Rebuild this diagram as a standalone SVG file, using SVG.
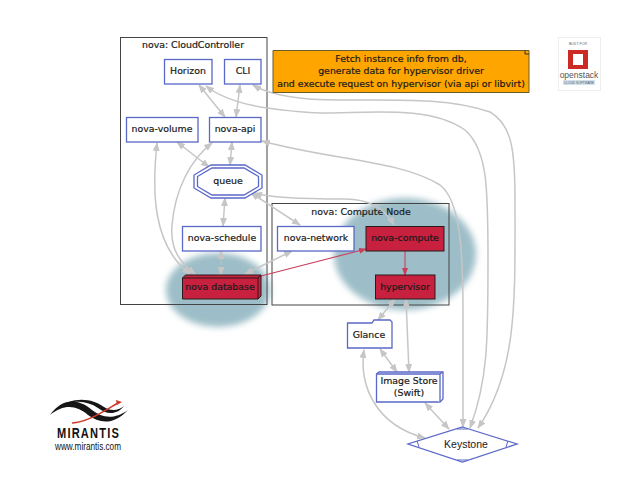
<svg xmlns="http://www.w3.org/2000/svg" width="638" height="493" viewBox="0 0 638 493">
<style>
text{font-family:"DejaVu Sans","Liberation Sans",sans-serif;font-size:9.4px;fill:#1a1a1a;stroke:#1a1a1a;stroke-width:.2;text-anchor:middle}
.plain{font-family:"Liberation Sans",Arial,sans-serif;stroke:none}
.cluster{fill:none;stroke:#444;stroke-width:1}
.n{fill:#fff;stroke:#5a68c8;stroke-width:1.3}
.r{fill:#c8203f;stroke:#2a1a1a;stroke-width:1}
.e{fill:none;stroke:#c6c6c6;stroke-width:1.5;marker-start:url(#ga);marker-end:url(#ga)}
.red{fill:none;stroke:#c9405c;stroke-width:1.1;marker-end:url(#ra)}
.blob{fill:#9dbec8;filter:url(#soft)}
</style>
<defs>
<filter id="soft" x="-20%" y="-20%" width="140%" height="140%"><feGaussianBlur stdDeviation="3"/></filter>
<marker id="ga" markerWidth="9" markerHeight="7" refX="8" refY="3.500" orient="auto-start-reverse" markerUnits="userSpaceOnUse"><path d="M0,0L9,3.500L0,7z" fill="#c6c6c6"/></marker>
<marker id="ra" markerWidth="8" markerHeight="6" refX="7" refY="3" orient="auto" markerUnits="userSpaceOnUse"><path d="M0,0L8,3L0,6z" fill="#c9405c"/></marker>
</defs>
<rect width="638" height="493" fill="#fff"/>
<ellipse class="blob" cx="218" cy="290" rx="52" ry="37"/>
<ellipse class="blob" cx="405" cy="254" rx="71" ry="56"/>
<g id="cloudcontroller"><rect class="cluster" x="120.500" y="37.500" width="146.500" height="267"/><text x="193" y="48">nova: CloudController</text></g>
<g id="computenode"><rect class="cluster" x="272" y="203.500" width="177" height="101.500"/><text x="361" y="215">nova: Compute Node</text></g>
<g id="connectors">
<path class="e" d="M199,85L225,117"/>
<path class="e" d="M240,85L236,117"/>
<path class="e" d="M177,142L209,167"/>
<path class="e" d="M232,142L230,165"/>
<path class="e" d="M225,198L223,226"/>
<path class="e" d="M251,193L300,225"/>
<path class="e" d="M254,193C270,198 300,199 345,199C368,199 384,207 394,225"/>
<path class="e" d="M157,143C152,190 152,245 190,274"/>
<path class="e" d="M212,143C190,160 175,190 172,225C170,250 180,262 195,274"/>
<path class="e" stroke-dasharray="5 4" stroke-opacity=".6" d="M221,251L221,275"/>
<path class="e" d="M245,274L292,251"/>
<path class="e" d="M395,299L378,320"/>
<path class="e" d="M406,299L409,372"/>
<path class="e" d="M380,349L397,372"/>
<path class="e" d="M364,350C359,385 375,425 425,438"/>
<path class="e" d="M425,403L449,429"/>
<path class="e" d="M262,141C330,160 400,160 440,185C460,200 463,250 463,310L463,427"/>
<path class="e" d="M206,86C230,105 270,110 320,113C370,113 430,105 465,130C488,150 488,190 488,260C488,340 488,380 470,428"/>
<path class="e" d="M253,85C270,95 300,100 340,100C400,100 450,98 490,112C512,125 515,150 515,200C515,300 518,370 478,428"/>
<path class="red" d="M261,276L366,249"/>
<path class="red" d="M405,251L405,275"/>
</g>
<g id="note"><path d="M273,50.500H529V92.500H273Z" fill="#ffa500" stroke="#6b5a2a" stroke-width="1"/><path d="M525,50.500V54H529" fill="none" stroke="#333" stroke-width="1"/><text x="401" y="62">Fetch instance info from db,</text><text x="401" y="74">generate data for hypervisor driver</text><text x="401" y="87">and execute request on hypervisor (via api or libvirt)</text></g>
<g id="horizon"><rect class="n" x="164.500" y="59.500" width="47.500" height="24.500"/><text x="188" y="74">Horizon</text></g>
<g id="cli"><rect class="n" x="224.500" y="59.500" width="36.500" height="24.500"/><text x="243" y="74">CLI</text></g>
<g id="nova-volume"><rect class="n" x="126.500" y="117.500" width="71.500" height="24.500"/><text x="162" y="132">nova-volume</text></g>
<g id="nova-api"><rect class="n" x="209.500" y="117.500" width="51.500" height="24.500"/><text x="235" y="132">nova-api</text></g>
<g id="queue"><path class="n" d="M211,165H245L262,175V188L245,198H211L194,188V175Z"/><path class="n" d="M212,168H244L258.500,176.500V186.500L244,195H212L197.500,186.500V176.500Z"/><text x="228" y="184">queue</text></g>
<g id="nova-schedule"><rect class="n" x="182.500" y="226.500" width="78.500" height="24.500"/><text x="222" y="241">nova-schedule</text></g>
<g id="nova-database"><path class="r" d="M182.500,278L185.500,275H261V296L258,299H182.500Z"/><path d="M182.500,278H258V299M258,278L261,275" fill="none" stroke="#2a1a1a" stroke-width="1"/><text x="220" y="290">nova database</text></g>
<g id="nova-network"><rect class="n" x="277.500" y="226.500" width="76.500" height="24.500"/><text x="316" y="241">nova-network</text></g>
<g id="nova-compute"><rect class="r" x="366" y="226.500" width="78" height="24.500"/><text x="405" y="241">nova-compute</text></g>
<g id="hypervisor"><rect class="r" x="375.500" y="275" width="59.500" height="24"/><text x="405" y="290">hypervisor</text></g>
<g id="glance"><path class="n" d="M347.500,323H372L374,320H390L392,322V348H347.500Z"/><text x="369" y="338">Glance</text></g>
<g id="image-store"><path class="n" d="M376.500,374L379,372H443V399L440,402H376.500Z"/><path class="n" fill="none" d="M376.500,374H440V402M440,374L443,372"/><text x="409" y="384">Image Store</text><text x="409" y="396">(Swift)</text></g>
<g id="keystone"><path class="n" d="M462.500,427L517,444L462.500,462L408,444Z"/><path d="M457,429H468M457,460H468M417,441L419,447M508,441L506,447" fill="none" stroke="#5a68c8" stroke-width="1"/><text class="plain" x="466" y="448" style="font-size:10.500px">Keystone</text></g>
<g id="mirantis-logo">
<path d="M50,415C62,398 78,398 92,410C102,418 114,420 128,410C114,425 100,424 88,415C76,405 64,404 50,415Z" fill="#161616"/>
<path d="M56,409C72,396 92,398 104,407C110,411 118,411 124,406C116,416 106,414 98,408C86,400 72,399 56,409Z" fill="#161616"/>
<path d="M72,423C88,422 102,412 118,403" fill="none" stroke="#cf3b2a" stroke-width="1.500"/>
<path d="M116,400L122,402L117,405Z" fill="#cf3b2a"/>
<text class="plain" x="88.500" y="438" textLength="63" lengthAdjust="spacingAndGlyphs" style="font-size:14px;font-weight:bold;letter-spacing:1.500px;fill:#111">MIRANTIS</text>
<text class="plain" x="88" y="450" textLength="66" lengthAdjust="spacingAndGlyphs" style="font-size:10px;fill:#111">www.mirantis.com</text>
</g>
<g id="openstack-logo">
<rect x="558.500" y="37.500" width="42" height="53" fill="#fff" stroke="#eee" stroke-width="1"/>
<text class="plain" x="578" y="45" style="font-size:3.500px;fill:#666">BUILT FOR</text>
<path fill-rule="evenodd" d="M568,50H588V69H568ZM573,54V65H583V54Z" fill="#cc2a24"/>
<text class="plain" x="579" y="78" style="font-size:8.500px;fill:#555">openstack</text>
<rect x="563" y="80" width="32" height="5" fill="#cfe3ea"/>
<text class="plain" x="579" y="84" style="font-size:3.200px;fill:#557">CLOUD SOFTWARE</text>
</g>
</svg>
